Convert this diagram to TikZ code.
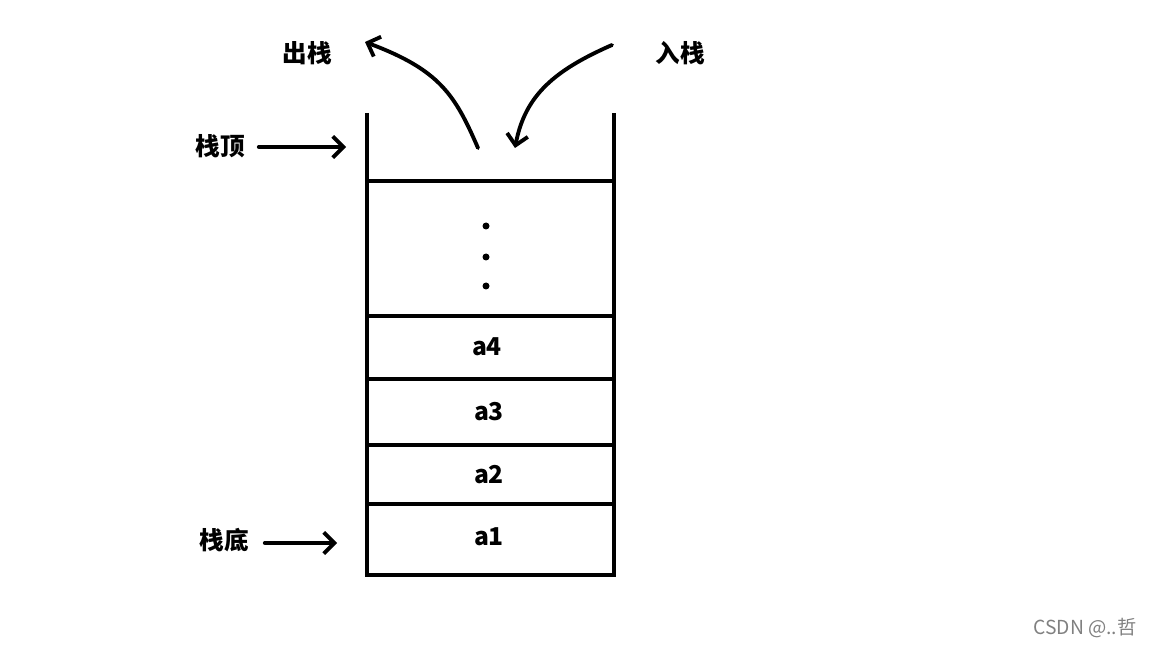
\documentclass[tikz,border=0pt]{standalone}
\usepackage{fontspec}
\setmainfont{Noto Sans CJK SC}
\usetikzlibrary{arrows.meta,positioning}

\begin{document}
\begin{tikzpicture}[
    x=0.02cm, y=-0.02cm,
    wall/.style={line width=2.2pt},
    label/.style={font=\fontsize{14}{16}\selectfont\bfseries},
    arrow/.style={line width=2.2pt,line cap=round,-{Straight Barb[length=6pt,width=12pt,line width=2.2pt]}}
]
\useasboundingbox (0,0) rectangle (1152,648);

% Stack walls and cells
\draw[wall] (367,113) -- (367,575) -- (614,575) -- (614,113);
\foreach \y in {181,316,379,445,504}
  \draw[wall] (367,\y) -- (614,\y);
\foreach \y in {226,257,286}
  \fill (486,\y) circle (3.5);

% Cell labels
\node[label] (a4) at (487,347) {a4};
\node[label] (a3) at (489,412) {a3};
\node[label] (a2) at (489,475) {a2};
\node[label] (a1) at (489,537) {a1};

% Side labels
\node[label] (top) at (220,146) {栈顶};
\node[label] (bottom) at (224,540) {栈底};
\node[label] (pop) at (307,53) {出栈};
\node[label] (push) at (680,53) {入栈};

\coordinate (topend) at (346,147);
\coordinate (bottomend) at (337,543);
\coordinate (popstart) at (478,148);
\coordinate (popend) at (365,42);
\coordinate (pushend) at (515,148);

% Connections
\draw[arrow] (top.east) ++(8,1) -- (topend);
\draw[arrow] (bottom.east) ++(10,3) -- (bottomend);
\draw[arrow] (popstart) .. controls (455,95) and (440,70) .. (popend);
\draw[arrow] (612,45) .. controls (555,70) and (525,95) .. (pushend);

\node[text=gray, font=\fontsize{11}{13}\selectfont] (mark) at (1085,628) {CSDN @..哲};
\end{tikzpicture}
\end{document}
